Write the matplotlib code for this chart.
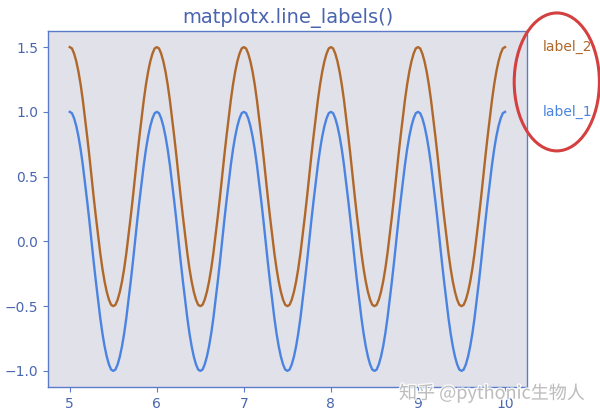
import numpy as np
import matplotlib.pyplot as plt
import matplotlib.patheffects as pe
from matplotlib.patches import Ellipse
from matplotlib import transforms

# x sampled every 0.025 from 5 to 10
x = np.linspace(5, 10, 201)

label_1 = [
    1.00, 0.99, 0.95, 0.89, 0.81, 0.71, 0.59, 0.45, 0.31, 0.16, 0.00, -0.16, -0.31, -0.45, -0.59, -0.71, -0.81, -0.89, -0.95, -0.99,
    -1.00, -0.99, -0.95, -0.89, -0.81, -0.71, -0.59, -0.45, -0.31, -0.16, 0.00, 0.16, 0.31, 0.45, 0.59, 0.71, 0.81, 0.89, 0.95, 0.99,
    1.00, 0.99, 0.95, 0.89, 0.81, 0.71, 0.59, 0.45, 0.31, 0.16, 0.00, -0.16, -0.31, -0.45, -0.59, -0.71, -0.81, -0.89, -0.95, -0.99,
    -1.00, -0.99, -0.95, -0.89, -0.81, -0.71, -0.59, -0.45, -0.31, -0.16, 0.00, 0.16, 0.31, 0.45, 0.59, 0.71, 0.81, 0.89, 0.95, 0.99,
    1.00, 0.99, 0.95, 0.89, 0.81, 0.71, 0.59, 0.45, 0.31, 0.16, 0.00, -0.16, -0.31, -0.45, -0.59, -0.71, -0.81, -0.89, -0.95, -0.99,
    -1.00, -0.99, -0.95, -0.89, -0.81, -0.71, -0.59, -0.45, -0.31, -0.16, 0.00, 0.16, 0.31, 0.45, 0.59, 0.71, 0.81, 0.89, 0.95, 0.99,
    1.00, 0.99, 0.95, 0.89, 0.81, 0.71, 0.59, 0.45, 0.31, 0.16, 0.00, -0.16, -0.31, -0.45, -0.59, -0.71, -0.81, -0.89, -0.95, -0.99,
    -1.00, -0.99, -0.95, -0.89, -0.81, -0.71, -0.59, -0.45, -0.31, -0.16, 0.00, 0.16, 0.31, 0.45, 0.59, 0.71, 0.81, 0.89, 0.95, 0.99,
    1.00, 0.99, 0.95, 0.89, 0.81, 0.71, 0.59, 0.45, 0.31, 0.16, 0.00, -0.16, -0.31, -0.45, -0.59, -0.71, -0.81, -0.89, -0.95, -0.99,
    -1.00, -0.99, -0.95, -0.89, -0.81, -0.71, -0.59, -0.45, -0.31, -0.16, 0.00, 0.16, 0.31, 0.45, 0.59, 0.71, 0.81, 0.89, 0.95, 0.99,
    1.00,
]
label_2 = [
    1.50, 1.49, 1.45, 1.39, 1.31, 1.21, 1.09, 0.95, 0.81, 0.66, 0.50, 0.34, 0.19, 0.05, -0.09, -0.21, -0.31, -0.39, -0.45, -0.49,
    -0.50, -0.49, -0.45, -0.39, -0.31, -0.21, -0.09, 0.05, 0.19, 0.34, 0.50, 0.66, 0.81, 0.95, 1.09, 1.21, 1.31, 1.39, 1.45, 1.49,
    1.50, 1.49, 1.45, 1.39, 1.31, 1.21, 1.09, 0.95, 0.81, 0.66, 0.50, 0.34, 0.19, 0.05, -0.09, -0.21, -0.31, -0.39, -0.45, -0.49,
    -0.50, -0.49, -0.45, -0.39, -0.31, -0.21, -0.09, 0.05, 0.19, 0.34, 0.50, 0.66, 0.81, 0.95, 1.09, 1.21, 1.31, 1.39, 1.45, 1.49,
    1.50, 1.49, 1.45, 1.39, 1.31, 1.21, 1.09, 0.95, 0.81, 0.66, 0.50, 0.34, 0.19, 0.05, -0.09, -0.21, -0.31, -0.39, -0.45, -0.49,
    -0.50, -0.49, -0.45, -0.39, -0.31, -0.21, -0.09, 0.05, 0.19, 0.34, 0.50, 0.66, 0.81, 0.95, 1.09, 1.21, 1.31, 1.39, 1.45, 1.49,
    1.50, 1.49, 1.45, 1.39, 1.31, 1.21, 1.09, 0.95, 0.81, 0.66, 0.50, 0.34, 0.19, 0.05, -0.09, -0.21, -0.31, -0.39, -0.45, -0.49,
    -0.50, -0.49, -0.45, -0.39, -0.31, -0.21, -0.09, 0.05, 0.19, 0.34, 0.50, 0.66, 0.81, 0.95, 1.09, 1.21, 1.31, 1.39, 1.45, 1.49,
    1.50, 1.49, 1.45, 1.39, 1.31, 1.21, 1.09, 0.95, 0.81, 0.66, 0.50, 0.34, 0.19, 0.05, -0.09, -0.21, -0.31, -0.39, -0.45, -0.49,
    -0.50, -0.49, -0.45, -0.39, -0.31, -0.21, -0.09, 0.05, 0.19, 0.34, 0.50, 0.66, 0.81, 0.95, 1.09, 1.21, 1.31, 1.39, 1.45, 1.49,
    1.50,
]
names = ['label_1', 'label_2']
colors = ['#4a84e0', '#b0682a']

plt.rcParams['font.family'] = ['DejaVu Sans', 'Noto Sans CJK SC']

fig = plt.figure(figsize=(6, 4.18), dpi=100)
ax = fig.add_axes([0.08, 0.074, 0.798, 0.852])
ax.set_facecolor('#e1e1e9')

ax.plot(x, label_1, color=colors[0], lw=1.7)
ax.plot(x, label_2, color=colors[1], lw=1.7)

ax.set_title('matplotx.line_labels()', color='#4a64b0', fontsize=14, pad=6)

axis_col = '#5b7bc8'
for s in ax.spines.values():
    s.set_color(axis_col)
    s.set_linewidth(1.0)
ax.tick_params(colors=axis_col, labelcolor='#4a66b0', labelsize=10)
ax.set_xticks([5, 6, 7, 8, 9, 10])
ax.set_yticks([-1.0, -0.5, 0.0, 0.5, 1.0, 1.5])

# line labels at the right of the axes
tr = transforms.blended_transform_factory(fig.transFigure, ax.transData)
for name, vals, c in zip(names, [label_1, label_2], colors):
    ax.text(0.905, vals[-1], name, transform=tr, color=c, fontsize=10,
            va='center', ha='left', clip_on=False)

# red ellipse highlight
fig.add_artist(Ellipse((0.928, 0.804), 0.142, 0.33, transform=fig.transFigure,
                       fill=False, edgecolor='#d44040', lw=2.2))

# watermark (overlaps the last tick labels, as in the source image)
fig.text(0.665, 0.06, '知乎 @pythonic生物人', fontsize=13,
         family=['Noto Sans CJK SC', 'DejaVu Sans'], color='#b4b4b4', alpha=0.85,
         va='center', ha='left',
         path_effects=[pe.withStroke(linewidth=2, foreground='white')])

fig.savefig('out.png', dpi=100)
